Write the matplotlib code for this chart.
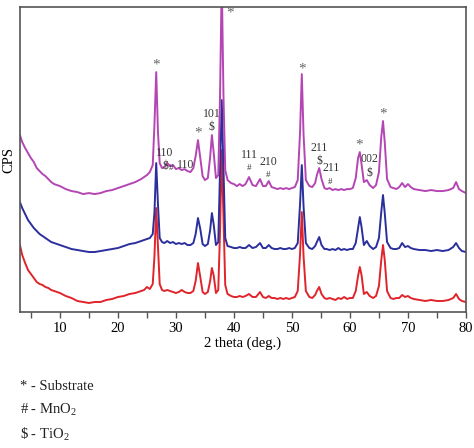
import matplotlib
matplotlib.use('Agg')
import matplotlib.pyplot as plt
from matplotlib.ticker import MultipleLocator

plt.rcParams['font.family'] = ['Liberation Serif', 'DejaVu Serif']
plt.rcParams['mathtext.fontset'] = 'stix'

# ===========================
# data (arbitrary intensity units)
# ===========================
two_theta = [3.1, 3.5, 4.0, 4.5, 5.0, 5.5, 6.0, 6.5, 7.0, 7.5, 8.0, 8.5, 9.0, 10, 11, 12, 13, 14, 15, 16,
             17, 18, 19, 20, 21, 22, 23, 24, 24.5, 25, 25.5, 26.0, 26.3, 26.6, 26.9, 27.2, 27.6, 28.0, 28.5, 29.0,
             29.5, 30, 30.5, 31, 31.5, 32, 32.5, 33.0, 33.4, 33.8, 34.2, 34.6, 35.0, 35.5, 35.9, 36.2, 36.5, 36.9, 37.3, 37.6,
             37.9, 38.2, 38.5, 38.9, 39.5, 40, 40.5, 41, 41.5, 42.0, 42.6, 43.2, 43.8, 44.5, 45.0, 45.5, 46.0, 46.5, 47, 47.5,
             48, 48.5, 49, 49.5, 50, 50.5, 51.0, 51.4, 51.7, 52.0, 52.4, 53, 53.5, 54.0, 54.3, 54.7, 55.1, 55.6, 56, 56.5,
             57, 57.5, 58, 58.5, 59, 59.5, 60, 60.5, 61.0, 61.4, 61.7, 62.0, 62.4, 62.9, 63.4, 64.0, 64.5, 65.0, 65.4, 65.7,
             66.0, 66.4, 67, 67.5, 68, 68.5, 69.0, 69.5, 70.0, 70.5, 71, 72, 73, 74, 75, 76, 77, 77.8, 78.3, 78.8,
             79.3, 80]

cps_top = [177, 170, 164, 159, 154, 150, 144, 141, 138, 136, 133, 130, 128, 126, 123, 121, 120, 118, 119, 118,
           119, 121, 122, 124, 126, 128, 130, 133, 135, 137, 140, 147, 188, 240, 180, 149, 144, 145, 149, 146,
           147, 143, 144, 142, 143, 141, 140, 144, 156, 172, 154, 136, 132, 134, 155, 177, 160, 134, 137, 215,
           332, 215, 142, 132, 129, 128, 126, 128, 126, 128, 135, 127, 126, 133, 126, 126, 131, 125, 124, 123,
           124, 123, 124, 123, 124, 125, 132, 180, 238, 178, 132, 126, 125, 129, 137, 144, 133, 124, 123, 124,
           122, 123, 122, 123, 122, 123, 123, 124, 134, 154, 160, 148, 130, 132, 127, 124, 127, 140, 175, 191,
           170, 133, 125, 124, 123, 125, 129, 125, 128, 125, 123, 122, 121, 122, 121, 121, 122, 124, 130, 123,
           121, 119]

cps_mid = [110, 104, 98, 92, 88, 84, 81, 78, 76, 74, 72, 70, 69, 67, 65, 63, 62, 61, 60, 60,
           61, 62, 63, 64, 66, 68, 69, 71, 72, 73, 74, 78, 100, 149, 108, 74, 70, 69, 71, 69,
           70, 68, 69, 68, 69, 67, 67, 69, 78, 94, 83, 68, 66, 68, 82, 99, 88, 67, 70, 140,
           212, 145, 74, 66, 65, 64, 64, 65, 64, 64, 67, 64, 65, 69, 64, 64, 67, 64, 63, 63,
           64, 63, 63, 64, 63, 64, 69, 108, 147, 106, 69, 64, 63, 66, 70, 75, 67, 63, 63, 62,
           63, 62, 64, 62, 63, 62, 63, 63, 69, 84, 95, 85, 67, 71, 66, 63, 65, 74, 100, 117,
           99, 70, 64, 63, 63, 64, 69, 65, 66, 64, 63, 62, 62, 61, 62, 61, 62, 65, 69, 64,
           61, 60]

cps_low = [67, 57, 49, 42, 38, 34, 30, 28, 27, 25, 24, 22, 21, 19, 16, 14, 11, 10, 9, 10,
           10, 12, 13, 15, 16, 18, 19, 21, 22, 25, 23, 28, 56, 104, 66, 28, 22, 21, 22, 21,
           20, 19, 20, 22, 20, 19, 19, 21, 31, 49, 35, 20, 18, 20, 31, 44, 37, 19, 22, 80,
           162, 96, 27, 18, 16, 15, 15, 16, 15, 16, 18, 15, 15, 20, 15, 14, 16, 14, 14, 13,
           14, 13, 14, 13, 14, 15, 21, 58, 100, 56, 21, 15, 14, 17, 21, 25, 18, 14, 13, 14,
           13, 12, 14, 13, 15, 13, 14, 14, 21, 36, 45, 37, 18, 20, 16, 14, 16, 26, 52, 67,
           52, 21, 14, 13, 14, 14, 17, 15, 16, 14, 13, 12, 11, 12, 11, 11, 12, 14, 18, 13,
           11, 10]

# peak labels: (2theta, height, text)
peak_labels = [
    (26.55, 247, '*'), (39.3, 299, '*'), (33.8, 179, '*'), (51.7, 243, '*'),
    (61.6, 167, '*'), (65.7, 198, '*'),
    (36.2, 198, '101'), (36.2, 185, '$'),
    (28.1, 159, '110'), (28.2, 146, '$'), (29.1, 144, '#'), (31.6, 147, '110'),
    (42.6, 157, '111'), (42.6, 144, '#'), (46.0, 150, '210'), (45.9, 137, '#'),
    (54.7, 164, '211'), (54.7, 151, '$'), (56.8, 144, '211'), (56.6, 130, '#'),
    (63.4, 153, '002'), (63.4, 139, '$'),
]

legend_lines = ['* - Substrate', '# - MnO$\\mathregular{_2}$', '\\$ - TiO$\\mathregular{_2}$']

# ===========================
# plot
# ===========================
fig = plt.figure(figsize=(4.74, 4.48), dpi=100)
ax = fig.add_axes([0.042, 0.3036, 0.941, 0.6804])

ax.plot(two_theta, cps_low, color='#e0242c', linewidth=1.4)
ax.plot(two_theta, cps_mid, color='#2b2f9c', linewidth=1.4)
ax.plot(two_theta, cps_top, color='#b446b4', linewidth=1.4)

for x, y, s in peak_labels:
    fs = 8.5
    col = '#333333'
    if s == '$':
        s = r'\$'
    elif s == '*':
        fs = 11
        col = '#666666'
    elif s == '#':
        fs = 6.5
    ax.text(x, y, s, fontsize=fs, color=col, ha='center', va='center')

ax.set_xlim(3.1, 80)
ax.set_ylim(0, 305)
ax.set_yticks([])
ax.xaxis.set_major_locator(MultipleLocator(10))
ax.xaxis.set_minor_locator(MultipleLocator(5))
ax.tick_params(axis='x', which='both', direction='out', length=4, width=1,
               color='#555555', labelsize=10.5, pad=3)
ax.set_xticks([10, 20, 30, 40, 50, 60, 70, 80])
for sp in ax.spines.values():
    sp.set_color('#555555')
    sp.set_linewidth(1.2)

ax.set_xlabel('2 theta (deg.)', fontsize=10.5, labelpad=1)
ax.set_ylabel('CPS', fontsize=10.5, labelpad=3)

for i, line in enumerate(legend_lines):
    fig.text(0.042, 1 - (386 + i * 24) / 448, line, fontsize=10.5, color='#222222',
             ha='left', va='center')

plt.savefig('out.png', dpi=100)
plt.close()
